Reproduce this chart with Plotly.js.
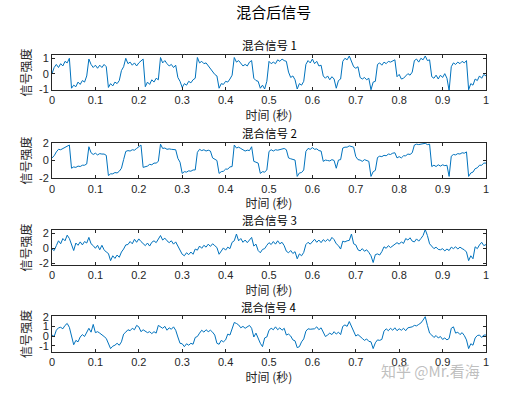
<!DOCTYPE html>
<html><head><meta charset="utf-8">
<script src="https://cdn.plot.ly/plotly-3.0.1.min.js"></script>
<style>html,body{margin:0;padding:0;background:#fff;}#chart{width:508px;height:393px;}</style>
</head><body><div id="chart"></div>
<script>
const sampleStep = 0.005;
const signal1 = [
0.0,0.4,0.6,0.4,0.65,0.5,0.8,0.7,1.0,-0.95,
-0.75,-0.85,-0.55,-0.7,-0.45,-0.55,-0.15,0.95,0.6,0.4,
0.55,0.35,0.55,0.4,0.6,0.45,-0.9,-0.65,-0.8,-0.55,
-0.65,-0.45,0.2,0.45,1.0,0.65,0.75,0.55,0.7,0.5,
0.7,0.8,0.95,-0.85,-0.55,-0.7,-0.4,-0.55,-0.3,-0.4,
1.05,0.7,0.85,0.65,0.5,0.6,0.4,0.55,-0.25,-0.5,
-0.9,-0.65,-0.75,-0.5,-0.6,-0.4,-0.3,1.05,0.7,0.8,
0.65,0.7,0.5,0.3,0.1,-0.05,-0.15,-0.95,-0.65,-0.7,
-0.5,-0.55,-0.35,-0.1,1.05,0.75,0.85,0.65,0.5,0.6,
0.5,0.75,0.85,-0.3,-0.45,-0.5,-0.95,-0.75,-1.0,-0.5,
0.8,0.65,0.75,0.65,0.9,0.8,0.95,0.85,0.8,0.1,
-0.25,-0.15,-0.4,-1.0,-0.65,-0.75,-0.5,0.6,0.85,0.7,
0.95,0.65,0.8,0.5,0.55,-0.15,-0.3,-0.15,-0.4,-0.2,
-0.35,-0.95,-0.45,-0.35,0.8,1.0,0.9,1.15,0.85,0.45,
0.35,0.45,-0.25,-0.35,-0.25,-0.4,-0.3,-1.05,-0.55,-0.5,
0.6,0.7,0.55,0.75,0.65,0.8,0.75,0.85,0.9,-0.2,
-0.05,-0.35,-0.3,-0.15,0.0,-0.1,0.1,0.85,0.95,0.75,
1.0,0.9,1.15,0.85,0.9,-0.2,-0.3,-0.1,-0.35,-0.1,
-0.25,0.0,-0.3,-1.1,0.45,0.7,0.6,0.75,0.65,0.8,
0.7,0.85,-1.05,-0.65,-0.75,-0.35,-0.45,-0.15,-0.3,-0.05,
-0.15];
const signal2 = [
0.3,0.55,1.0,1.3,1.25,1.4,1.45,1.65,1.8,-0.9,
-0.75,-0.8,-0.65,-0.7,-0.55,-0.55,-0.4,1.6,0.9,0.7,
0.85,0.65,0.8,0.75,0.75,0.6,-1.75,-1.55,-1.55,-1.4,
-1.45,-1.25,-0.9,0.1,1.05,1.15,1.1,1.25,1.2,1.4,
1.6,1.8,-0.8,-0.7,-0.65,-0.45,-0.5,-0.3,-0.3,-0.1,
1.9,1.4,1.45,1.3,1.35,1.3,1.3,1.25,0.25,-0.2,
-1.5,-1.3,-1.35,-1.2,-1.25,-1.1,-1.1,0.95,1.3,1.15,
1.25,1.1,1.2,1.1,0.3,0.15,0.0,-1.5,-1.3,-1.25,
-1.0,-1.0,-0.75,-0.7,1.8,1.45,1.55,1.4,1.2,1.1,
1.2,1.15,1.6,-0.1,-0.2,-0.3,-1.5,-1.3,-1.35,-1.1,
1.05,1.25,1.1,1.25,1.2,1.25,1.3,1.4,1.25,0.3,
0.2,0.1,0.05,-1.85,-1.45,-1.4,-1.1,1.05,1.4,1.3,
1.5,1.3,1.35,1.15,1.1,-0.1,0.05,0.0,-0.05,0.1,
0.0,-0.9,0.05,0.1,1.45,1.55,1.55,1.7,1.6,1.55,
0.45,0.1,0.05,-0.1,0.1,-0.05,-0.1,-1.85,-1.3,-1.15,
0.35,0.5,0.45,0.6,0.55,0.75,0.7,0.85,0.9,0.3,
0.45,0.3,0.55,0.55,0.75,0.7,0.9,1.8,1.9,1.85,
1.9,1.95,2.0,1.85,1.9,-0.7,-0.55,-0.7,-0.5,-0.65,
-0.5,-0.6,-0.55,-1.85,0.5,0.7,0.65,0.8,0.75,0.9,
0.85,1.0,-1.85,-1.45,-1.35,-0.95,-0.85,-0.55,-0.55,-0.3,
-0.3];
const signal3 = [
-0.1,-0.3,0.35,1.0,0.6,1.3,1.0,1.75,1.3,0.35,
-0.3,0.7,0.4,0.85,0.45,0.9,0.7,1.45,0.6,0.35,
0.0,0.4,-0.2,0.4,-0.2,-0.5,-0.7,-1.65,-1.0,-1.35,
-0.9,-1.2,-0.5,-0.1,0.45,0.5,0.9,0.6,1.2,0.8,
1.25,0.9,0.6,0.35,0.7,0.3,0.8,1.0,0.75,1.15,
1.7,1.1,1.35,1.0,0.75,1.0,0.55,0.85,0.35,-0.3,
-0.8,-1.0,-0.6,-0.85,-0.5,-0.8,-0.1,-0.25,0.3,0.0,
0.4,0.15,0.55,0.25,0.6,0.35,0.1,-0.8,-0.4,0.05,
-0.25,0.15,-0.05,0.8,1.0,1.9,1.0,1.3,0.8,1.1,
0.75,1.05,1.45,0.3,0.55,-0.3,-0.6,-0.15,-0.05,0.4,
0.75,0.5,0.9,0.55,1.0,0.6,0.8,0.35,-0.4,-0.6,
-0.3,-0.7,-0.45,-1.4,-0.75,-1.0,-0.55,0.5,0.8,0.55,
0.9,1.2,0.8,1.1,0.75,1.15,0.9,1.2,0.95,1.45,
1.15,0.6,0.35,-0.1,0.95,0.85,1.0,1.05,1.9,0.6,
0.45,-0.2,-0.35,-0.05,-0.4,-0.2,-0.55,-1.0,-1.9,-0.85,
-0.75,-0.9,-0.45,0.2,0.0,0.35,0.1,0.3,0.45,0.75,
0.55,0.85,0.65,1.3,1.1,1.4,0.95,0.85,1.25,0.95,
1.3,1.7,2.5,1.7,0.6,0.2,-0.05,0.15,-0.15,-0.2,
-0.05,-0.35,-0.1,-0.3,0.15,-0.05,0.2,-0.1,0.15,-0.05,
-0.2,-0.5,-1.65,-1.0,-1.4,0.2,-0.05,0.45,0.8,0.35,
0.5];
const signal4 = [
0.1,-0.05,0.6,0.85,0.9,0.75,1.1,1.3,0.9,-0.1,
-0.9,-0.45,-0.6,-0.1,0.15,-0.05,0.35,0.8,0.4,1.2,
0.35,0.45,0.3,0.15,-0.05,-0.25,-0.75,-1.3,-1.05,-0.95,
-0.75,-0.95,-0.6,0.2,0.4,0.65,0.55,0.8,0.65,1.1,
0.95,0.45,0.65,0.45,0.35,0.45,0.25,0.45,0.3,1.1,
0.95,0.8,1.0,0.6,0.85,0.7,0.95,0.6,-0.1,-0.75,
-0.8,-1.1,-0.8,-0.95,-0.75,-0.85,-0.15,-0.05,0.3,0.6,
0.4,0.65,0.45,0.6,0.4,0.1,-0.75,-0.85,-0.45,-0.6,
-0.4,0.2,0.1,0.8,1.4,1.3,1.15,0.85,1.0,0.8,
0.95,1.1,0.8,-0.1,0.3,-0.25,-0.75,-1.1,-0.2,-0.1,
0.6,0.8,0.65,0.95,0.65,0.85,0.6,0.8,0.1,0.2,
0.0,-0.4,-0.5,-1.2,-1.1,-0.6,-0.3,0.5,0.75,0.7,
0.7,0.75,0.95,0.65,0.85,0.3,-0.05,0.1,0.3,0.15,
0.45,0.2,0.4,0.15,1.0,1.15,1.0,1.5,0.95,0.4,
0.0,0.15,-0.1,-0.25,-0.45,-0.3,-0.55,-0.6,-1.3,-0.7,
-0.4,-0.45,-0.35,0.5,0.75,0.55,0.8,0.6,0.85,0.55,
0.75,0.6,0.8,0.55,0.85,0.9,0.95,1.1,1.05,1.2,
1.35,1.65,2.0,1.1,0.3,0.1,-0.15,0.05,-0.2,-0.05,
-0.35,-0.2,-0.4,-0.25,0.8,0.95,0.3,0.4,0.15,0.35,
0.05,-0.4,-1.3,-0.8,-0.95,-0.2,0.05,0.1,-0.15,0.1,
0.1];
const panelTitles = ['混合信号 1','混合信号 2','混合信号 3','混合信号 4'];
const mainTitle = '混合后信号';
const xTitle = '时间 (秒)';
const yTitle = '信号强度';
const yTickVals = [[-1,0,1],[-2,0,2],[-2,0,2],[-1,0,1,2]];
const yRanges = [[-1.065,1.215],[-2.07,2.07],[-2.23,2.44],[-1.62,2.07]];
const yDomains = [[0.7710,0.8601],[0.5463,0.6369],[0.3257,0.4148],[0.1051,0.1959]];
const watermark = '知乎 @Mr.看海';

const signals = [signal1, signal2, signal3, signal4];
const axisColor = '#262626';
const cjk = 'Noto Sans CJK SC, sans-serif';
const latin = 'Liberation Sans, Arial, sans-serif';

const traces = signals.map((s, k) => ({
  x: s.map((_, i) => +(i * sampleStep).toFixed(4)),
  y: s,
  type: 'scatter', mode: 'lines',
  line: {color: '#0072BD', width: 1},
  xaxis: k === 0 ? 'x' : 'x' + (k + 1),
  yaxis: k === 0 ? 'y' : 'y' + (k + 1),
  hoverinfo: 'skip', showlegend: false
}));

const layout = {
  width: 508, height: 393,
  margin: {l: 52, r: 22, t: 0, b: 0},
  paper_bgcolor: '#fff', plot_bgcolor: '#fff',
  showlegend: false,
  title: {text: mainTitle, x: 0.511, xref: 'paper', xanchor: 'center', y: 0.967, yref: 'paper', yanchor: 'middle',
          font: {family: cjk, size: 15, color: '#000'}},
  annotations: []
};

for (let k = 0; k < 4; k++) {
  const xs = k === 0 ? 'xaxis' : 'xaxis' + (k + 1);
  const ys = k === 0 ? 'yaxis' : 'yaxis' + (k + 1);
  const xn = k === 0 ? 'x' : 'x' + (k + 1);
  const yn = k === 0 ? 'y' : 'y' + (k + 1);
  layout[xs] = {
    domain: [0, 1], anchor: yn, range: [0, 1], tick0: 0, dtick: 0.1,
    ticks: 'inside', ticklen: 3, tickcolor: axisColor, tickwidth: 1,
    showline: true, linecolor: axisColor, linewidth: 1, mirror: 'ticks',
    showgrid: false, zeroline: false,
    tickfont: {family: latin, size: 11, color: axisColor},
    title: {text: xTitle, font: {family: cjk, size: 12, color: axisColor}, standoff: 3}
  };
  layout[ys] = {
    domain: yDomains[k], anchor: xn, range: yRanges[k],
    tickvals: yTickVals[k], ticktext: yTickVals[k].map(v => String(v)),
    ticks: 'inside', ticklen: 3, tickcolor: axisColor, tickwidth: 1,
    showline: true, linecolor: axisColor, linewidth: 1, mirror: 'ticks',
    showgrid: false, zeroline: false,
    tickfont: {family: latin, size: 11, color: axisColor},
    title: {text: yTitle, font: {family: cjk, size: 12, color: axisColor}, standoff: 4}
  };
  layout.annotations.push({
    text: panelTitles[k], xref: xn + ' domain', yref: yn + ' domain', x: 0.5, y: 1,
    xanchor: 'center', yanchor: 'middle', yshift: 9.5, showarrow: false,
    font: {family: cjk, size: 11.5, color: '#000'}
  });
}
layout.annotations.push({
  text: watermark, xref: 'paper', yref: 'paper', x: 0.873, y: 0.0585,
  xanchor: 'center', yanchor: 'middle', showarrow: false,
  font: {family: cjk, size: 15, color: 'rgba(170,170,170,0.75)'}
});

Plotly.newPlot('chart', traces, layout, {staticPlot: true, displayModeBar: false});
</script></body></html>
